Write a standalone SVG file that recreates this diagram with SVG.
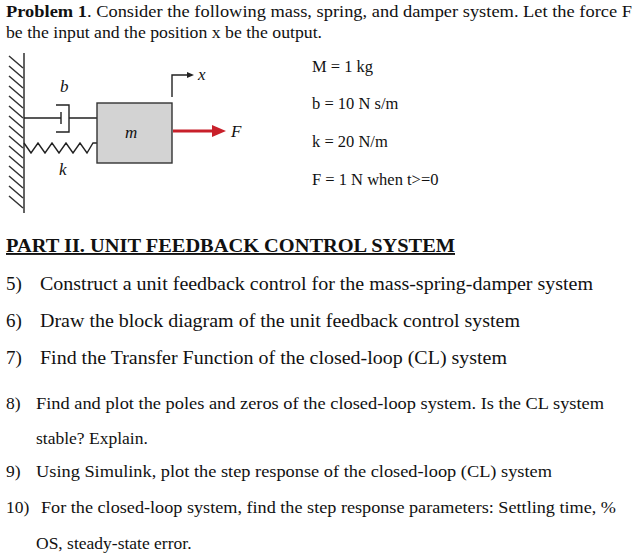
<svg xmlns="http://www.w3.org/2000/svg" width="639" height="557" viewBox="0 0 639 557">
<style>
text{font-family:"Liberation Serif","Times New Roman",serif;fill:#111}
.h{font-size:17.5px}
.p{font-size:16.5px}
.i{font-size:19px}
.s{font-size:17.5px}
.ln{stroke:#222;stroke-width:1.4;fill:none}
.it{font-style:italic;font-size:17px}
</style>
<rect width="639" height="557" fill="#fff"/>
<text class="h" x="6" y="17" textLength="626" lengthAdjust="spacingAndGlyphs"><tspan font-weight="bold">Problem 1</tspan>. Consider the following mass, spring, and damper system. Let the force F</text>
<text class="h" x="6" y="38" textLength="316" lengthAdjust="spacingAndGlyphs">be the input and the position x be the output.</text>
<g id="wall">
<line class="ln" x1="24" y1="53" x2="24" y2="213" stroke-width="2"/>
<path d="M9 56l14 12M9 66l14 12M9 76l14 12M9 86l14 12M9 96l14 12M9 106l14 12M9 116l14 12M9 126l14 12M9 136l14 12M9 146l14 12M9 156l14 12M9 166l14 12M9 176l14 12M9 186l14 12M9 196l14 12" stroke="#333" stroke-width="1.5"/>
</g>
<g id="damper">
<path class="ln" d="M24 118H61M61 112V124M56 105H69V132H56M69 118H97"/>
<text class="it" x="60" y="92">b</text>
</g>
<g id="spring">
<path class="ln" d="M24 143L31 153L38 143L45 153L52 143L59 153L66 143L73 153L80 143L87 153L93 143L97 143"/>
<text class="it" x="59" y="175">k</text>
</g>
<g id="mass">
<rect x="97" y="103" width="75" height="60" fill="#d3d3d3" stroke="#333" stroke-width="1.4"/>
<text class="it" x="125" y="138">m</text>
</g>
<g id="connectors">
<path class="ln" d="M172 97V75H188"/>
<path d="M187 72L194 75L187 78Z" fill="#222"/>
<line x1="173" y1="131" x2="214" y2="131" stroke="#c8202a" stroke-width="3"/>
<path d="M212 125L226 131L212 137Z" fill="#c8202a"/>
</g>
<text class="it" x="198" y="80">x</text>
<text class="it" x="231" y="137">F</text>
<text class="p" x="312" y="72">M = 1 kg</text>
<text class="p" x="312" y="109">b = 10 N s/m</text>
<text class="p" x="312" y="147">k = 20 N/m</text>
<text class="p" x="312" y="185">F = 1 N when t&gt;=0</text>
<text class="i" x="6" y="252" font-weight="bold" text-decoration="underline" textLength="449" lengthAdjust="spacingAndGlyphs">PART II.  UNIT FEEDBACK CONTROL SYSTEM </text>
<text class="i" x="6" y="290">5)</text><text class="i" x="40" y="290" textLength="553" lengthAdjust="spacingAndGlyphs">Construct a unit feedback control for the mass-spring-damper system</text>
<text class="i" x="6" y="327">6)</text><text class="i" x="40" y="327" textLength="480" lengthAdjust="spacingAndGlyphs">Draw the block diagram of the unit feedback control system</text>
<text class="i" x="6" y="364">7)</text><text class="i" x="40" y="364" textLength="467" lengthAdjust="spacingAndGlyphs">Find the Transfer Function of the closed-loop (CL) system</text>
<text class="s" x="6" y="409">8)</text><text class="s" x="36" y="409" textLength="568" lengthAdjust="spacingAndGlyphs">Find and plot the poles and zeros of the closed-loop system. Is the CL system</text>
<text class="s" x="36" y="444">stable? Explain.</text>
<text class="s" x="6" y="477">9)</text><text class="s" x="36" y="477" textLength="516" lengthAdjust="spacingAndGlyphs">Using Simulink, plot the step response of the closed-loop (CL) system</text>
<text class="s" x="6" y="513">10)</text><text class="s" x="41" y="513" textLength="575" lengthAdjust="spacingAndGlyphs">For the closed-loop system, find the step response parameters: Settling time, %</text>
<text class="s" x="36" y="549">OS, steady-state error.</text>
</svg>
